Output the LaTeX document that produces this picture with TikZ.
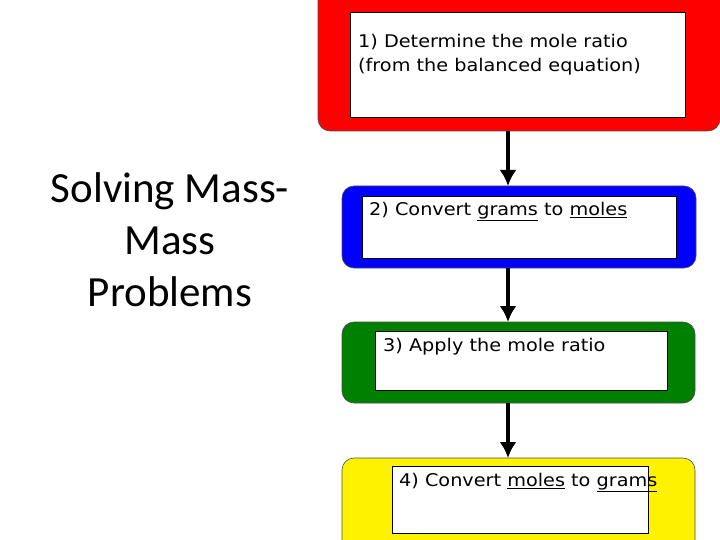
\documentclass[tikz,border=0pt]{standalone}
\usepackage{fontspec}
\setmainfont{Carlito}
\newfontfamily\boxfont{DejaVu Sans}[FakeStretch=1.1]
\usetikzlibrary{arrows.meta}
\begin{document}
\begin{tikzpicture}[x=1pt,y=-1pt,
  outer/.style={draw=black!70, line width=0.6pt, rounded corners=12pt},
  inner/.style={draw=black, fill=white, line width=0.6pt},
  lbl/.style={anchor=north west, inner sep=0pt, font=\boxfont\fontsize{17.5}{24}\selectfont, align=left},
  arr/.style={line width=4pt, -{Latex[length=16pt,width=17pt]}}]
\path[use as bounding box] (0,0) rectangle (720,540);
\begin{scope}
\clip (0,0) rectangle (720,540);
\draw[outer, fill=red] (318,-15) rectangle (720,131);
\node[inner, minimum width=335pt, minimum height=105pt, anchor=north west] (i1) at (350,12) {};
\node[lbl] (t1) at (358,34) {1) Determine the mole ratio\\(from the balanced equation)};
\draw[outer, fill=blue] (342,186) rectangle (696,268);
\node[inner, minimum width=314pt, minimum height=62pt, anchor=north west] (i2) at (362,196) {};
\node[lbl] (t2) at (369,202) {2) Convert \underline{grams} to \underline{moles}};
\draw[outer, fill=green!50!black] (342,322) rectangle (695,403);
\node[inner, minimum width=292pt, minimum height=59pt, anchor=north west] (i3) at (375,331) {};
\node[lbl] (t3) at (383,338) {3) Apply the mole ratio};
\draw[outer, fill=yellow] (342,458) rectangle (695,560);
\node[inner, minimum width=256pt, minimum height=67pt, anchor=north west] (i4) at (392,466) {};
\node[lbl] (t4) at (399,473) {4) Convert \underline{moles} to \underline{grams}};
\end{scope}
\coordinate (a1) at (508,131); \coordinate (b1) at (508,186);
\coordinate (a2) at (508,268); \coordinate (b2) at (508,322);
\coordinate (a3) at (508,403); \coordinate (b3) at (508,458);
\draw[arr] (a1) -- (b1);
\draw[arr] (a2) -- (b2);
\draw[arr] (a3) -- (b3);
\node[font=\fontsize{43}{52}\selectfont, align=center] (title) at (170,240) {Solving Mass-\\Mass\\Problems};
\end{tikzpicture}
\end{document}
